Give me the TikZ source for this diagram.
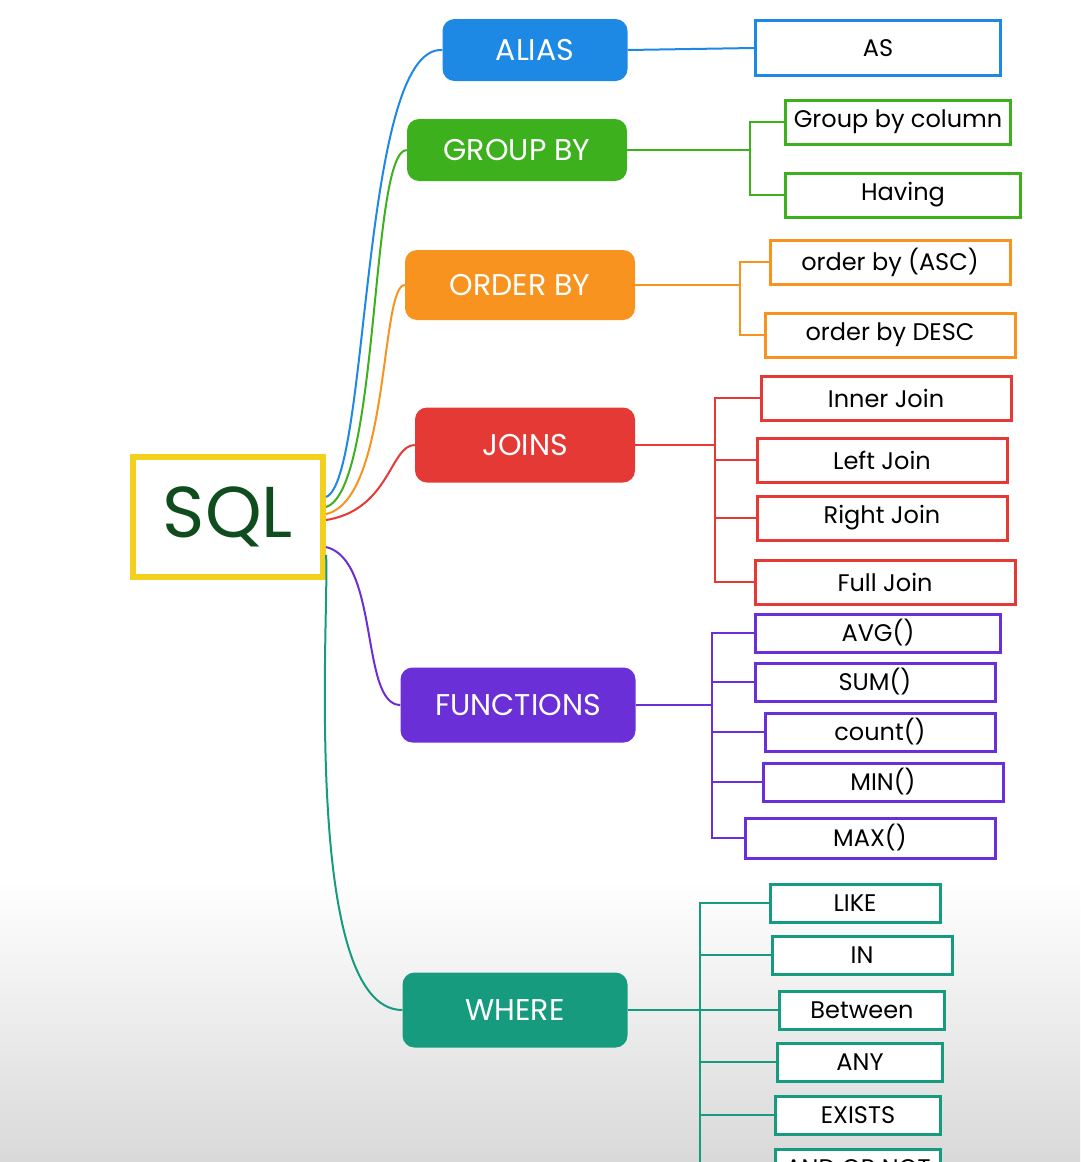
\documentclass[tikz,border=0pt]{standalone}
\usepackage{fontspec}
\setmainfont{Poppins}
\begin{document}
\begin{tikzpicture}[x=1pt,y=-1pt,
  cat/.style={rounded corners=12pt,text=white,font=\fontsize{30}{30}\selectfont,minimum height=62pt,inner sep=0pt},
  leaf/.style={draw,line width=3pt,fill=white,font=\fontsize{24}{24}\selectfont,minimum height=44pt,inner sep=0pt,text=black},
  ln/.style={line width=2pt}]
\definecolor{cb}{HTML}{1E88E5}\definecolor{cg}{HTML}{3DB01E}\definecolor{co}{HTML}{F7931E}
\definecolor{cr}{HTML}{E53935}\definecolor{cp}{HTML}{6A2FD6}\definecolor{ct}{HTML}{169B7F}
\definecolor{cy}{HTML}{F2D01C}\definecolor{dg}{HTML}{0F4D1E}
\useasboundingbox (0,0) rectangle (1080,1162);
\fill[white] (0,0) rectangle (1080,880);
\shade[top color=white,bottom color=black!15] (0,880) rectangle (1080,1162);
% categories
\node[cat,fill=cb,minimum width=185pt] (alias) at (535,50) {ALIAS};
\node[cat,fill=cg,minimum width=220pt] (grp) at (517,150) {GROUP BY};
\node[cat,fill=co,minimum width=230pt,minimum height=70pt] (ord) at (520,285) {ORDER BY};
\node[cat,fill=cr,minimum width=220pt,minimum height=75pt] (joi) at (525,445) {JOINS};
\node[cat,fill=cp,minimum width=235pt,minimum height=75pt] (fun) at (518,705) {FUNCTIONS};
\node[cat,fill=ct,minimum width=225pt,minimum height=75pt] (whr) at (515,1010) {WHERE};
% SQL
\node[draw=cy,line width=6pt,fill=white,minimum width=190pt,minimum height=120pt,text=dg,font=\fontsize{72}{72}\selectfont] (sql) at (228,517) {SQL};
% SQL connectors
\draw[ln,cb] (sql.east) ++(0,-20) .. controls (370,480) and (360,45) .. (alias.west);
\draw[ln,cg] (sql.east) ++(0,-10) .. controls (380,490) and (370,150) .. (grp.west);
\draw[ln,co] (sql.east) ++(0,-3) .. controls (390,500) and (380,285) .. (ord.west);
\draw[ln,cr] (sql.east) ++(0,3) .. controls (390,510) and (390,445) .. (joi.west);
\draw[ln,cp] (sql.east) ++(0,30) .. controls (380,560) and (360,705) .. (fun.west);
\draw[ln,ct] (sql.east) ++(0,38) .. controls (330,600) and (300,1010) .. (whr.west);
% leaves
\node[leaf,draw=cb,minimum width=245pt,minimum height=55pt] (as) at (878,48) {AS};
\node[leaf,draw=cg,minimum width=225pt] (g1) at (898,122) {Group by column};
\node[leaf,draw=cg,minimum width=235pt] (g2) at (903,195) {Having};
\node[leaf,draw=co,minimum width=240pt] (o1) at (890,262) {order by (ASC)};
\node[leaf,draw=co,minimum width=250pt] (o2) at (890,335) {order by DESC};
\node[leaf,draw=cr,minimum width=250pt] (j1) at (886,398) {Inner Join};
\node[leaf,draw=cr,minimum width=250pt] (j2) at (882,460) {Left Join};
\node[leaf,draw=cr,minimum width=250pt] (j3) at (882,518) {Right Join};
\node[leaf,draw=cr,minimum width=260pt] (j4) at (885,582) {Full Join};
\node[leaf,draw=cp,minimum width=245pt,minimum height=38pt] (f1) at (878,633) {AVG()};
\node[leaf,draw=cp,minimum width=240pt,minimum height=38pt] (f2) at (875,682) {SUM()};
\node[leaf,draw=cp,minimum width=230pt,minimum height=38pt] (f3) at (880,732) {count()};
\node[leaf,draw=cp,minimum width=240pt,minimum height=38pt] (f4) at (883,782) {MIN()};
\node[leaf,draw=cp,minimum width=250pt,minimum height=40pt] (f5) at (870,838) {MAX()};
\node[leaf,draw=ct,minimum width=170pt,minimum height=38pt] (w1) at (855,903) {LIKE};
\node[leaf,draw=ct,minimum width=180pt,minimum height=38pt] (w2) at (862,955) {IN};
\node[leaf,draw=ct,minimum width=165pt,minimum height=38pt] (w3) at (862,1010) {Between};
\node[leaf,draw=ct,minimum width=165pt,minimum height=38pt] (w4) at (860,1062) {ANY};
\node[leaf,draw=ct,minimum width=165pt,minimum height=38pt] (w5) at (858,1115) {EXISTS};
\node[leaf,draw=ct,minimum width=165pt,minimum height=38pt] (w6) at (858,1168) {AND OR NOT};
% branch connectors
\draw[ln,cb] (alias.east) -- (as.west);
\foreach \l in {g1,g2} \draw[ln,cg] (grp.east) -- (750,150) |- (\l.west);
\foreach \l in {o1,o2} \draw[ln,co] (ord.east) -- (740,285) |- (\l.west);
\foreach \l in {j1,j2,j3,j4} \draw[ln,cr] (joi.east) -- (715,445) |- (\l.west);
\foreach \l in {f1,f2,f3,f4,f5} \draw[ln,cp] (fun.east) -- (712,705) |- (\l.west);
\foreach \l in {w1,w2,w3,w4,w5,w6} \draw[ln,ct] (whr.east) -- (700,1010) |- (\l.west);
\end{tikzpicture}
\end{document}
